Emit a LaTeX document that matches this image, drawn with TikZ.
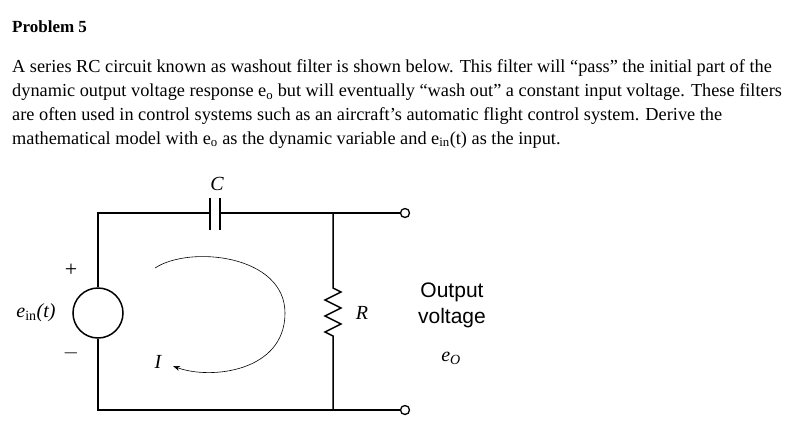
\documentclass[tikz,border=0pt]{standalone}
\usepackage{fontspec}
\setmainfont{Liberation Serif}
\newfontfamily\sansf{Liberation Sans}
\usetikzlibrary{arrows.meta,decorations.pathmorphing}
\begin{document}
\begin{tikzpicture}[x=1pt,y=-1pt,
  wire/.style={line width=1.5pt},
  para/.style={anchor=west,inner sep=0pt,font=\fontsize{18.3}{20}\selectfont},
  lbl/.style={font=\fontsize{20}{22}\selectfont\itshape},
  term/.style={circle,draw,line width=1.3pt,fill=white,minimum size=9pt,inner sep=0pt}]
\useasboundingbox (0,0) rectangle (795,445);
\node[para,font=\bfseries\fontsize{17}{18}\selectfont] (t) at (12,27) {Problem 5};
\node[para] (l1) at (12,68) {A series RC circuit known as washout filter is shown below. This filter will “pass” the initial part of the};
\node[para] (l2) at (12,92) {dynamic output voltage response e\textsubscript{o} but will eventually “wash out” a constant input voltage. These filters};
\node[para] (l3) at (12,116) {are often used in control systems such as an aircraft’s automatic flight control system. Derive the};
\node[para] (l4) at (12,140) {mathematical model with e\textsubscript{o} as the dynamic variable and e\textsubscript{in}(t) as the input.};
% circuit
\coordinate (tl) at (98,213); \coordinate (bl) at (98,410);
\coordinate (tr) at (333,213); \coordinate (br) at (333,410);
\node[term] (o1) at (405,213) {};
\node[term] (o2) at (405,410) {};
\node[circle,draw,line width=1.5pt,minimum size=50pt,inner sep=0pt] (src) at (98,313) {};
\coordinate (c1) at (210,213); \coordinate (c2) at (220,213);
\draw[wire] (src.north) -- (tl) -- (c1);
\draw[wire] (c2) -- (tr) -- (o1.west);
\draw[wire] (210,198) -- (210,230) (220,198) -- (220,230);
\draw[wire] (src.south) -- (bl) -- (br) -- (o2.west);
\coordinate (r1) at (333,288); \coordinate (r2) at (333,336);
\draw[wire,line join=miter] (tr) -- (r1) -- (341,292) -- (325,300) -- (341,308) -- (325,316) -- (341,324) -- (325,332) -- (r2) -- (br);
\draw[line width=0.6pt,-{Stealth[length=7pt,width=5pt]}] (155,268) .. controls (190,245) and (285,255) .. (285,313) .. controls (285,372) and (210,380) .. (173,366);
\node[lbl] (C) at (217,184) {C};
\node[lbl] (R) at (362,313) {R};
\node[lbl] (I) at (158,362) {I};
\node (plus) at (71,270) {\fontsize{22}{22}\selectfont +};
\node (minus) at (71,353) {\fontsize{22}{22}\selectfont $-$};
\node[lbl] (ein) at (36,313) {e\textsubscript{\upshape in}(t)};
\node (out1) at (452,292) {\sansf\fontsize{21}{22}\selectfont Output};
\node (out2) at (452,318) {\sansf\fontsize{21}{22}\selectfont voltage};
\node[lbl] (eo) at (451,358) {e\textsubscript{O}};
\end{tikzpicture}
\end{document}
